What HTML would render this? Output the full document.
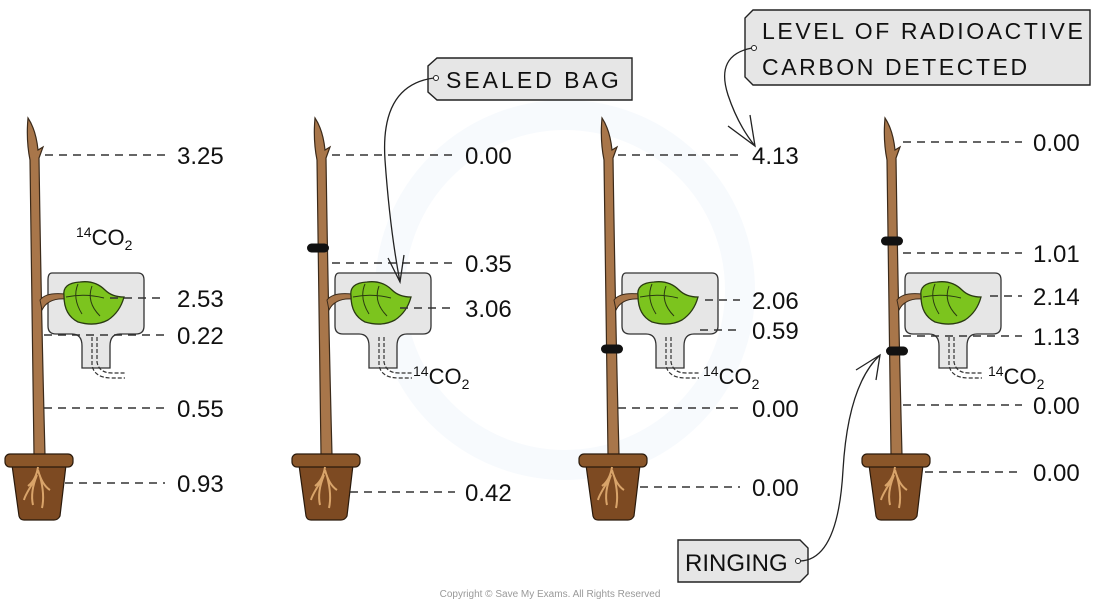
<!DOCTYPE html>
<html><head><meta charset="utf-8"><style>
html,body{margin:0;padding:0;background:#fff;}
svg{display:block;}
text{font-family:"Liberation Sans",sans-serif;fill:#111;}
</style></head><body>
<svg width="1100" height="605" viewBox="0 0 1100 605" xmlns="http://www.w3.org/2000/svg">
<defs>
<g id="plant">
  <path d="M52,273 H138 Q144,273 144,280 V326 Q144,334 136,334 H120 Q110,334 110,346 V368 H82 V346 Q82,334 72,334 H56 Q48,334 48,326 V280 Q48,273 52,273 Z" fill="#e6e6e6" stroke="#333" stroke-width="1.3"/>
  <path d="M92,337 V365 Q94,378 112,378 H125 M97,337 V362 Q99,373 112,373 H125" fill="none" stroke="#333" stroke-width="1.2" stroke-dasharray="4,2"/>
  <path d="M28,118 Q36,130 38,150 L43,147 L39,158 Q41,300 45,455 L34,455 Q32,300 30,160 Q26,140 28,118 Z" fill="#a8764a" stroke="#3b2a1a" stroke-width="1.2"/>
  <path d="M40,300 Q46,292 65,294 L65,299 Q48,298 42,310 Z" fill="#a8764a" stroke="#3b2a1a" stroke-width="1"/>
  <path d="M64,296 Q62,283 80,282 Q95,280 105,290 Q112,297 124,297 Q120,312 108,320 Q95,327 78,322 Q64,315 64,296 Z" fill="#7cc41e" stroke="#2a3a12" stroke-width="1.3"/>
  <path d="M66,297 Q85,293 104,298 M78,284 Q72,298 82,314 M92,286 Q86,302 100,316" fill="none" stroke="#2a3a12" stroke-width="1"/>
  <path d="M12,465 H66 L60,516 Q58,520 54,520 H24 Q20,520 19,516 Z" fill="#7d4a22" stroke="#2a1a0c" stroke-width="1.2"/>
  <rect x="5" y="454" width="68" height="13" rx="5" fill="#8a5629" stroke="#2a1a0c" stroke-width="1.2"/>
  <path d="M38,467 Q36,480 28,486 M38,470 Q42,485 50,490 M37,475 Q30,492 33,505 M40,476 Q45,495 42,508 M36,478 Q25,495 24,500" fill="none" stroke="#d9a46a" stroke-width="2"/>
</g>
<g id="ring"><rect x="-11" y="-4.5" width="22" height="9" rx="4.5" fill="#111"/></g>
</defs>

<circle cx="565" cy="290" r="175" fill="none" stroke="#f7fafd" stroke-width="30"/>

<use href="#plant" x="0" y="0"/>
<use href="#plant" x="287" y="0"/>
<use href="#plant" x="574" y="0"/>
<use href="#plant" x="857" y="0"/>

<use href="#ring" x="318" y="248"/>
<use href="#ring" x="612" y="349"/>
<use href="#ring" x="892" y="241"/>
<use href="#ring" x="897" y="351"/>

<g stroke="#333" stroke-width="1.4" stroke-dasharray="8,6" fill="none">
  <path d="M45,155 H165 M110,298 H165 M44,335 H165 M44,408 H165 M65,483 H165"/>
  <path d="M332,155 H455 M332,263 H455 M400,308 H455 M350,492 H455"/>
  <path d="M618,155 H740 M705,300 H740 M700,330 H740 M618,408 H740 M640,487 H740"/>
  <path d="M903,142 H1022 M903,253 H1022 M990,296 H1022 M903,336 H1022 M903,405 H1022 M925,472 H1022"/>
</g>

<g font-size="24">
  <text x="177" y="164">3.25</text>
  <text x="177" y="307">2.53</text>
  <text x="177" y="344">0.22</text>
  <text x="177" y="417">0.55</text>
  <text x="177" y="492">0.93</text>
  <text x="465" y="164">0.00</text>
  <text x="465" y="272">0.35</text>
  <text x="465" y="317">3.06</text>
  <text x="465" y="501">0.42</text>
  <text x="752" y="164">4.13</text>
  <text x="752" y="309">2.06</text>
  <text x="752" y="339">0.59</text>
  <text x="752" y="417">0.00</text>
  <text x="752" y="496">0.00</text>
  <text x="1033" y="151">0.00</text>
  <text x="1033" y="262">1.01</text>
  <text x="1033" y="305">2.14</text>
  <text x="1033" y="345">1.13</text>
  <text x="1033" y="414">0.00</text>
  <text x="1033" y="481">0.00</text>
</g>
<g font-size="22">
  <text x="76" y="245"><tspan font-size="14" dy="-8">14</tspan><tspan dy="8">CO</tspan><tspan font-size="14" dy="5">2</tspan></text>
  <text x="413" y="384"><tspan font-size="14" dy="-8">14</tspan><tspan dy="8">CO</tspan><tspan font-size="14" dy="5">2</tspan></text>
  <text x="703" y="384"><tspan font-size="14" dy="-8">14</tspan><tspan dy="8">CO</tspan><tspan font-size="14" dy="5">2</tspan></text>
  <text x="988" y="384"><tspan font-size="14" dy="-8">14</tspan><tspan dy="8">CO</tspan><tspan font-size="14" dy="5">2</tspan></text>
</g>

<path d="M437,58 H632 V100 H437 L428,92 V66 Z" fill="#e6e6e6" stroke="#222" stroke-width="1.4"/>
<circle cx="436" cy="78" r="2.5" fill="#fff" stroke="#222"/>
<text x="446" y="88" font-size="23" letter-spacing="3">SEALED BAG</text>
<path d="M434,78 Q380,85 385,160 Q390,230 400,282" fill="none" stroke="#222" stroke-width="1.3"/>
<path d="M388,258 L400,282 L404,255" fill="none" stroke="#222" stroke-width="1.3"/>

<path d="M753,10 H1090 V85 H753 L745,77 V18 Z" fill="#e6e6e6" stroke="#222" stroke-width="1.4"/>
<circle cx="754" cy="48" r="2.5" fill="#fff" stroke="#222"/>
<text x="762" y="39" font-size="23" letter-spacing="2.6">LEVEL OF RADIOACTIVE</text>
<text x="762" y="75" font-size="23" letter-spacing="2.6">CARBON DETECTED</text>
<path d="M752,48 Q715,55 728,95 Q738,125 755,146" fill="none" stroke="#222" stroke-width="1.3"/>
<path d="M728,126 L755,146 L750,115" fill="none" stroke="#222" stroke-width="1.3"/>

<path d="M678,540 H800 L808,548 V574 L800,582 H678 Z" fill="#e6e6e6" stroke="#222" stroke-width="1.4"/>
<circle cx="798" cy="561" r="2.5" fill="#fff" stroke="#222"/>
<text x="685" y="571" font-size="24">RINGING</text>
<path d="M800,561 Q838,560 843,470 Q848,385 880,355" fill="none" stroke="#222" stroke-width="1.3"/>
<path d="M856,370 L880,355 L876,380" fill="none" stroke="#222" stroke-width="1.3"/>

<text x="550" y="597" font-size="10" text-anchor="middle" style="fill:#999">Copyright © Save My Exams. All Rights Reserved</text>
</svg>
</body></html>
